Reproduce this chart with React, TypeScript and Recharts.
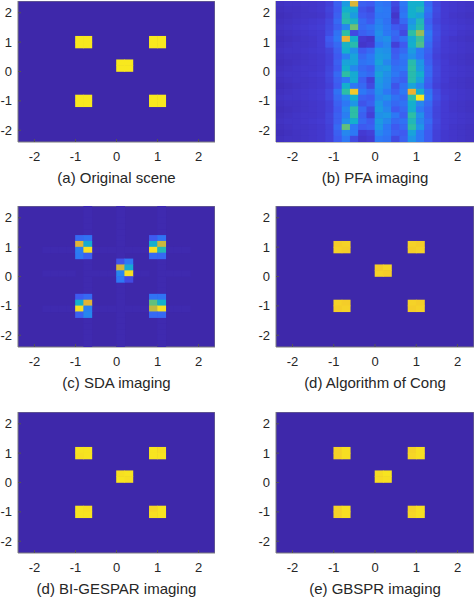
import React from 'react';
import { ScatterChart, Scatter, XAxis, YAxis, CartesianGrid, ReferenceArea } from 'recharts';

// ---------- axes ----------
const TICKS = [-2, -1, 0, 1, 2];
const DOMAIN: [number, number] = [-2.4, 2.4];
const COL_X = [-2.3, -2.1, -1.9, -1.7, -1.5, -1.3, -1.1, -0.9, -0.7, -0.5, -0.3, -0.1, 0.1, 0.3, 0.5, 0.7, 0.9, 1.1, 1.3, 1.5, 1.7, 1.9, 2.1, 2.3];
const ROW_Y = [2.3, 2.1, 1.9, 1.7, 1.5, 1.3, 1.1, 0.9, 0.7, 0.5, 0.3, 0.1, -0.1, -0.3, -0.5, -0.7, -0.9, -1.1, -1.3, -1.5, -1.7, -1.9, -2.1, -2.3];

// ---------- captions ----------
const CAPTIONS = [
  '(a) Original scene',
  '(b) PFA imaging',
  '(c) SDA imaging',
  '(d) Algorithm of Cong',
  '(d) BI-GESPAR imaging',
  '(e) GBSPR imaging',
];

// ---------- point-target cells (x, y) shared by the reconstructions ----------
const squareX = [-0.9, -0.7, -0.9, -0.7, 0.9, 1.1, 0.9, 1.1, 0.1, 0.3, 0.1, 0.3, -0.9, -0.7, -0.9, -0.7, 0.9, 1.1, 0.9, 1.1];
const squareY = [1.1, 1.1, 0.9, 0.9, 1.1, 1.1, 0.9, 0.9, 0.3, 0.3, 0.1, 0.1, -0.9, -0.9, -1.1, -1.1, -0.9, -0.9, -1.1, -1.1];
const originalValues = [1, 1, 1, 1, 1, 1, 1, 1, 1, 1, 1, 1, 1, 1, 1, 1, 1, 1, 1, 1];
const congValues = [0.94, 0.95, 0.95, 0.94, 0.95, 0.94, 0.94, 0.95, 0.94, 0.96, 0.95, 0.94, 0.95, 0.94, 0.94, 0.95, 0.95, 0.94, 0.94, 0.95];
const gesparValues = [0.99, 0.99, 0.98, 0.99, 0.99, 0.98, 0.99, 0.99, 0.98, 0.99, 0.99, 0.98, 0.99, 0.98, 0.99, 0.99, 0.96, 0.99, 0.98, 0.99];
const gbsprValues = [0.95, 0.98, 0.95, 0.98, 0.95, 0.98, 0.96, 0.98, 0.97, 0.99, 0.97, 0.98, 0.95, 0.98, 0.95, 0.98, 0.95, 0.98, 0.96, 0.98];

// ---------- SDA imaging ----------
const sdaX = [
  -0.9, -0.7, -0.9, -0.7, -0.9, -0.7, -0.9, -0.7,
  0.9, 1.1, 0.9, 1.1, 0.9, 1.1, 0.9, 1.1,
  0.1, 0.3, 0.1, 0.3, 0.1, 0.3, 0.1, 0.3,
  -0.9, -0.7, -0.9, -0.7, -0.9, -0.7, -0.9, -0.7,
  0.9, 1.1, 0.9, 1.1, 0.9, 1.1, 0.9, 1.1,
];
const sdaY = [
  1.3, 1.3, 1.1, 1.1, 0.9, 0.9, 0.7, 0.7,
  1.3, 1.3, 1.1, 1.1, 0.9, 0.9, 0.7, 0.7,
  0.5, 0.5, 0.3, 0.3, 0.1, 0.1, -0.1, -0.1,
  -0.7, -0.7, -0.9, -0.9, -1.1, -1.1, -1.3, -1.3,
  -0.7, -0.7, -0.9, -0.9, -1.1, -1.1, -1.3, -1.3,
];
const sdaValues = [
  0.25, 0.28, 0.86, 0.48, 0.32, 0.98, 0.3, 0.22,
  0.2, 0.28, 0.5, 0.82, 0.98, 0.56, 0.25, 0.25,
  0.18, 0.3, 0.84, 0.48, 0.35, 0.98, 0.3, 0.15,
  0.2, 0.25, 0.5, 0.86, 0.98, 0.33, 0.22, 0.35,
  0.28, 0.28, 0.68, 0.5, 0.8, 0.98, 0.25, 0.25,
];
const sdaFaintRowY = [0.9, 0.1, -1.1];
const sdaFaintRowX = [-1.7, -1.5, -1.3, -1.1, -0.5, -0.3, -0.1, 0.1, 0.3, 0.5, 0.7, 1.3, 1.5, 1.7];
const sdaFaintColX = [-0.7, 0.1, 1.1];
const sdaFaintLevel = 0.012;

// ---------- PFA imaging (rows top to bottom, columns left to right) ----------
const pfaValues: number[][] = [
  [0.06, 0.07, 0.07, 0.08, 0.08, 0.09, 0.12, 0.22, 0.42, 0.85, 0.22, 0.2, 0.3, 0.28, 0.15, 0.3, 0.5, 0.5, 0.25, 0.14, 0.1, 0.09, 0.08, 0.07],
  [0.05, 0.06, 0.06, 0.07, 0.08, 0.09, 0.13, 0.2, 0.5, 0.48, 0.18, 0.15, 0.32, 0.3, 0.12, 0.28, 0.5, 0.55, 0.28, 0.15, 0.1, 0.09, 0.08, 0.07],
  [0.04, 0.05, 0.06, 0.07, 0.07, 0.08, 0.12, 0.22, 0.55, 0.42, 0.2, 0.18, 0.3, 0.3, 0.08, 0.3, 0.5, 0.45, 0.25, 0.14, 0.1, 0.08, 0.07, 0.06],
  [0.05, 0.06, 0.07, 0.08, 0.09, 0.1, 0.14, 0.25, 0.58, 0.52, 0.25, 0.2, 0.33, 0.28, 0.12, 0.25, 0.4, 0.55, 0.22, 0.13, 0.1, 0.09, 0.08, 0.07],
  [0.06, 0.07, 0.08, 0.09, 0.1, 0.11, 0.15, 0.22, 0.35, 0.7, 0.25, 0.28, 0.35, 0.3, 0.2, 0.18, 0.45, 0.58, 0.25, 0.15, 0.11, 0.1, 0.09, 0.08],
  [0.05, 0.06, 0.07, 0.08, 0.09, 0.1, 0.16, 0.28, 0.6, 0.15, 0.22, 0.25, 0.38, 0.3, 0.25, 0.15, 0.6, 0.75, 0.3, 0.16, 0.11, 0.1, 0.08, 0.07],
  [0.04, 0.05, 0.06, 0.07, 0.08, 0.1, 0.2, 0.3, 0.88, 0.5, 0.1, 0.08, 0.35, 0.38, 0.22, 0.28, 0.48, 0.62, 0.28, 0.15, 0.1, 0.08, 0.07, 0.06],
  [0.05, 0.06, 0.07, 0.07, 0.08, 0.1, 0.18, 0.25, 0.52, 0.58, 0.08, 0.1, 0.3, 0.35, 0.12, 0.2, 0.5, 0.65, 0.25, 0.14, 0.1, 0.09, 0.08, 0.07],
  [0.06, 0.07, 0.07, 0.08, 0.09, 0.1, 0.13, 0.22, 0.5, 0.38, 0.2, 0.25, 0.4, 0.38, 0.2, 0.25, 0.42, 0.3, 0.22, 0.13, 0.1, 0.09, 0.08, 0.07],
  [0.05, 0.06, 0.06, 0.07, 0.08, 0.09, 0.12, 0.2, 0.32, 0.45, 0.25, 0.3, 0.42, 0.4, 0.22, 0.3, 0.38, 0.3, 0.2, 0.12, 0.09, 0.08, 0.07, 0.06],
  [0.04, 0.05, 0.06, 0.07, 0.08, 0.09, 0.12, 0.22, 0.45, 0.45, 0.28, 0.3, 0.45, 0.35, 0.25, 0.28, 0.58, 0.4, 0.22, 0.13, 0.1, 0.08, 0.07, 0.06],
  [0.05, 0.06, 0.07, 0.08, 0.08, 0.09, 0.13, 0.2, 0.5, 0.35, 0.25, 0.22, 0.4, 0.42, 0.28, 0.3, 0.6, 0.42, 0.25, 0.14, 0.1, 0.09, 0.08, 0.07],
  [0.06, 0.07, 0.07, 0.08, 0.09, 0.1, 0.14, 0.25, 0.6, 0.48, 0.28, 0.25, 0.45, 0.38, 0.3, 0.25, 0.58, 0.5, 0.25, 0.14, 0.1, 0.09, 0.08, 0.07],
  [0.05, 0.06, 0.07, 0.07, 0.08, 0.09, 0.13, 0.22, 0.3, 0.48, 0.22, 0.12, 0.42, 0.36, 0.25, 0.22, 0.58, 0.45, 0.22, 0.13, 0.1, 0.08, 0.07, 0.06],
  [0.04, 0.05, 0.06, 0.07, 0.08, 0.09, 0.12, 0.2, 0.5, 0.3, 0.25, 0.15, 0.4, 0.35, 0.18, 0.28, 0.45, 0.35, 0.2, 0.12, 0.09, 0.08, 0.07, 0.06],
  [0.05, 0.06, 0.07, 0.08, 0.09, 0.1, 0.14, 0.28, 0.6, 0.93, 0.3, 0.25, 0.38, 0.3, 0.22, 0.3, 0.88, 0.5, 0.28, 0.15, 0.1, 0.09, 0.08, 0.07],
  [0.06, 0.07, 0.07, 0.08, 0.09, 0.1, 0.14, 0.25, 0.35, 0.5, 0.22, 0.2, 0.35, 0.38, 0.28, 0.25, 0.6, 1.0, 0.3, 0.16, 0.11, 0.09, 0.08, 0.07],
  [0.05, 0.06, 0.06, 0.07, 0.08, 0.09, 0.12, 0.22, 0.3, 0.4, 0.18, 0.22, 0.4, 0.32, 0.25, 0.28, 0.5, 0.35, 0.25, 0.14, 0.1, 0.08, 0.07, 0.06],
  [0.04, 0.05, 0.06, 0.07, 0.08, 0.09, 0.12, 0.2, 0.35, 0.6, 0.25, 0.15, 0.42, 0.35, 0.2, 0.25, 0.5, 0.3, 0.22, 0.13, 0.1, 0.08, 0.07, 0.06],
  [0.05, 0.06, 0.07, 0.08, 0.08, 0.09, 0.13, 0.22, 0.32, 0.6, 0.22, 0.12, 0.38, 0.4, 0.3, 0.22, 0.6, 0.38, 0.22, 0.13, 0.1, 0.09, 0.08, 0.07],
  [0.06, 0.07, 0.07, 0.08, 0.09, 0.1, 0.13, 0.22, 0.38, 0.5, 0.25, 0.2, 0.42, 0.35, 0.25, 0.28, 0.55, 0.35, 0.25, 0.14, 0.1, 0.09, 0.08, 0.07],
  [0.05, 0.06, 0.07, 0.07, 0.08, 0.09, 0.12, 0.25, 0.68, 0.3, 0.2, 0.22, 0.4, 0.3, 0.2, 0.25, 0.6, 0.4, 0.22, 0.13, 0.1, 0.08, 0.07, 0.06],
  [0.04, 0.05, 0.06, 0.07, 0.08, 0.09, 0.12, 0.22, 0.35, 0.3, 0.1, 0.12, 0.35, 0.3, 0.22, 0.2, 0.45, 0.3, 0.2, 0.12, 0.09, 0.08, 0.07, 0.06],
  [0.05, 0.06, 0.06, 0.07, 0.08, 0.09, 0.12, 0.2, 0.3, 0.15, 0.08, 0.1, 0.3, 0.28, 0.15, 0.22, 0.4, 0.3, 0.2, 0.12, 0.09, 0.08, 0.07, 0.06],
];

// ---------- colormap (parula-like) ----------
const STOPS: [number, number[]][] = [
  [0.0, [62, 40, 170]],
  [0.1, [68, 58, 210]],
  [0.2, [62, 90, 240]],
  [0.3, [45, 120, 245]],
  [0.4, [30, 150, 230]],
  [0.5, [20, 175, 205]],
  [0.6, [45, 190, 165]],
  [0.7, [110, 192, 115]],
  [0.8, [190, 185, 65]],
  [0.88, [235, 178, 50]],
  [0.95, [245, 210, 40]],
  [1.0, [248, 232, 30]],
];
const BG = 'rgb(62,40,170)';

function cmap(v: number): string {
  const t = Math.max(0, Math.min(1, v));
  for (let i = 1; i < STOPS.length; i++) {
    const [t1, c1] = STOPS[i];
    const [t0, c0] = STOPS[i - 1];
    if (t <= t1) {
      const f = (t - t0) / (t1 - t0);
      const c = c0.map((a, k) => Math.round(a + (c1[k] - a) * f));
      return `rgb(${c[0]},${c[1]},${c[2]})`;
    }
  }
  const c = STOPS[STOPS.length - 1][1];
  return `rgb(${c[0]},${c[1]},${c[2]})`;
}

type Cell = { x: number; y: number; v: number };

function listCells(xs: number[], ys: number[], vs: number[]): Cell[] {
  return xs.map((x, i) => ({ x, y: ys[i], v: vs[i] }));
}

const pfaCells: Cell[] = [];
pfaValues.forEach((row, r) => row.forEach((v, c) => pfaCells.push({ x: COL_X[c], y: ROW_Y[r], v })));

const sdaCells: Cell[] = [];
sdaFaintColX.forEach((x) => ROW_Y.forEach((y) => sdaCells.push({ x, y, v: sdaFaintLevel })));
sdaFaintRowY.forEach((y) => sdaFaintRowX.forEach((x) => sdaCells.push({ x, y, v: sdaFaintLevel })));
sdaCells.push(...listCells(sdaX, sdaY, sdaValues));

const FONT = '"Liberation Sans", Arial, Helvetica, sans-serif';
const PLOT_H = 141;
const XAXIS_H = 30;

type PanelProps = {
  left: number;
  top: number;
  yAxisW: number;
  plotW: number;
  cells: Cell[];
  caption: string;
};

function Panel({ left, top, yAxisW, plotW, cells, caption }: PanelProps) {
  const cw = (plotW * 0.2) / 4.8;
  const ch = (PLOT_H * 0.2) / 4.8;
  const shape = (p: any) => {
    const { cx, cy, payload } = p;
    if (cx == null || cy == null) return <g />;
    return (
      <rect
        x={cx - cw / 2 - 0.3}
        y={cy - ch / 2 - 0.3}
        width={cw + 0.6}
        height={ch + 0.6}
        fill={cmap(payload.v)}
        stroke="none"
      />
    );
  };
  const tickStyle = { fontSize: 13, fill: '#262626', fontFamily: FONT };
  return (
    <div style={{ position: 'absolute', left, top, width: yAxisW + plotW, height: PLOT_H + 60 }}>
      <ScatterChart
        width={yAxisW + plotW}
        height={PLOT_H + XAXIS_H}
        margin={{ top: 0, right: 0, bottom: 0, left: 0 }}
        style={{ overflow: 'visible' }}
      >
        <CartesianGrid fill={BG} horizontal={false} vertical={false} stroke="none" />
        <XAxis
          type="number"
          dataKey="x"
          domain={DOMAIN}
          ticks={TICKS}
          interval={0}
          allowDataOverflow
          height={XAXIS_H}
          axisLine={false}
          tickSize={-3}
          tickMargin={13}
          tickLine={{ stroke: '#555' }}
          tick={tickStyle}
        />
        <YAxis
          type="number"
          dataKey="y"
          domain={DOMAIN}
          ticks={TICKS}
          interval={0}
          allowDataOverflow
          width={yAxisW}
          axisLine={false}
          tickSize={-3}
          tickMargin={9}
          tickLine={{ stroke: '#555' }}
          tick={tickStyle}
        />
        <Scatter data={cells} shape={shape} isAnimationActive={false} />
        <ReferenceArea
          x1={-2.4}
          x2={2.4}
          y1={-2.4}
          y2={2.4}
          fill="none"
          fillOpacity={0}
          stroke="#7d7d7d"
          strokeWidth={1}
          ifOverflow="visible"
        />
      </ScatterChart>
      <div
        style={{
          position: 'absolute',
          left: yAxisW,
          width: plotW,
          top: PLOT_H + 36 - 8,
          lineHeight: '16px',
          textAlign: 'center',
          fontFamily: FONT,
          fontSize: 15,
          color: '#262626',
          whiteSpace: 'nowrap',
        }}
      >
        {caption}
      </div>
    </div>
  );
}

export default function App() {
  const rowsTop = [1, 206, 412];
  return (
    <div
      style={{
        position: 'fixed',
        left: 0,
        top: 0,
        width: 474,
        height: 598,
        background: '#ffffff',
        overflow: 'hidden',
      }}
    >
      <Panel left={0} top={rowsTop[0]} yAxisW={18} plotW={197} cells={listCells(squareX, squareY, originalValues)} caption={CAPTIONS[0]} />
      <Panel left={246} top={rowsTop[0]} yAxisW={30} plotW={198} cells={pfaCells} caption={CAPTIONS[1]} />
      <Panel left={0} top={rowsTop[1]} yAxisW={18} plotW={197} cells={sdaCells} caption={CAPTIONS[2]} />
      <Panel left={246} top={rowsTop[1]} yAxisW={30} plotW={198} cells={listCells(squareX, squareY, congValues)} caption={CAPTIONS[3]} />
      <Panel left={0} top={rowsTop[2]} yAxisW={18} plotW={197} cells={listCells(squareX, squareY, gesparValues)} caption={CAPTIONS[4]} />
      <Panel left={246} top={rowsTop[2]} yAxisW={30} plotW={198} cells={listCells(squareX, squareY, gbsprValues)} caption={CAPTIONS[5]} />
    </div>
  );
}
